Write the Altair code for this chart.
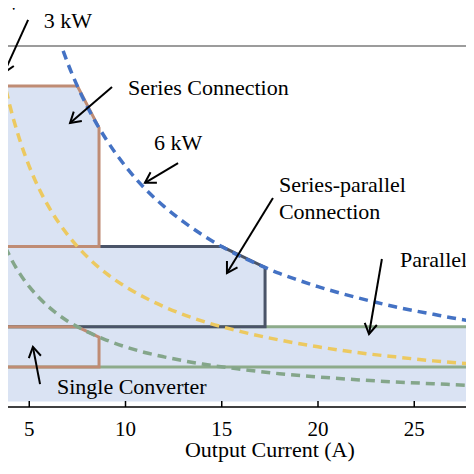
import altair as alt
import pandas as pd

# ---------------- data ----------------
# operating-region outlines: output current (A), output voltage (V)
parallel_I = [0, 30, 34.5, 34.5, 0, 0]
parallel_V = [200, 200, 174, 100, 100, 200]
seriespar_I = [0, 15, 17.25, 17.25, 0, 0]
seriespar_V = [400, 400, 348, 200, 200, 400]
single_I = [0, 7.5, 8.625, 8.625, 0, 0]
single_V = [200, 200, 174, 100, 100, 200]
series_I = [0, 7.5, 8.625, 8.625, 0, 0]
series_V = [800, 800, 696, 400, 400, 800]

# envelope of the shaded area
env_I = [0, 7.5, 8.625, 8.625, 15, 17.25, 17.25, 30, 34.5]
env_V = [800, 800, 696, 400, 400, 348, 200, 200, 174]
env_floor = 14

# constant power curves
p6_I = [6.5, 7, 7.5, 8, 9, 10, 11, 12, 13, 14, 15, 16, 17, 18, 19, 20, 21, 22, 23, 24, 25, 26, 27, 28, 29]
p6_V = [923, 857, 800, 750, 667, 600, 545, 500, 462, 429, 400, 375, 353, 333, 316, 300, 286, 273, 261, 250, 240, 231, 222, 214, 207]
p3_I = [3.2, 3.5, 4, 4.5, 5, 5.5, 6, 7, 8, 9, 10, 11, 12, 14, 16, 18, 20, 22, 24, 26, 28, 29]
p3_V = [938, 857, 750, 667, 600, 545, 500, 429, 375, 333, 300, 273, 250, 214, 188, 167, 150, 136, 125, 115, 107, 103]
p15_I = [3.2, 3.5, 4, 4.5, 5, 5.5, 6, 7, 8, 9, 10, 11, 12, 14, 16, 18, 20, 22, 24, 26, 28, 29]
p15_V = [469, 429, 375, 333, 300, 273, 250, 214, 188, 167, 150, 136, 125, 107, 94, 83, 75, 68, 62.5, 58, 53.6, 51.7]

frame_top = [900]
axis_base = [0]
tick_vals = [5, 10, 15, 20, 25]
tick_labels = ["5", "10", "15", "20", "25"]
x_title = ["Output Current (A)"]
x_title_I = [17.5]

# annotations
labels = ["1.5 kW", "3 kW", "Series Connection", "6 kW", "Series-parallel", "Connection", "Parallel", "Single Converter"]
label_I = [4.52, 7.01, 10.13, 12.73, 17.97, 17.97, 24.26, 6.44]
label_V = [1007, 963, 795, 658, 554, 486, 367, 50]
label_align = ["right", "center", "left", "center", "left", "left", "left", "left"]

arrow_tail_I = [4.94, 9.30, 12.73, 17.66, 23.32, 5.56]
arrow_tail_V = [965, 798, 608, 521, 369, 57]
arrow_head_I = [3.69, 7.12, 11.01, 15.27, 22.65, 5.19]
arrow_head_V = [833, 708, 559, 334, 182, 150]
arrow_angle = [204, 229, 239, 211, 190, 349]

# ---------------- chart ----------------
W, H = 458, 361
I_MIN = 3.896
I_MAX = I_MIN + W / 19.25
FONT = "Liberation Serif"

xs = alt.Scale(domain=[I_MIN, I_MAX], nice=False, zero=False)
ys = alt.Scale(domain=[0, 900], nice=False, zero=False)


def X(field="I"):
    return alt.X(f"{field}:Q", scale=xs, axis=None)


def Y(field="V"):
    return alt.Y(f"{field}:Q", scale=ys, axis=None, stack=None)


def poly_df(I, V):
    return pd.DataFrame({"I": I, "V": V, "idx": list(range(len(I)))})


env_df = pd.DataFrame({"I": env_I, "V": env_V, "floor": [env_floor] * len(env_I)})
fill = alt.Chart(env_df).mark_area(color="#dae3f3", clip=True, opacity=1).encode(
    x=X(), y=Y(), y2="floor:Q"
)


def outline(I, V, color):
    return alt.Chart(poly_df(I, V)).mark_line(
        color=color, strokeWidth=3, clip=True, strokeJoin="miter"
    ).encode(x=X(), y=Y(), order="idx:Q")


lines = [
    outline(parallel_I, parallel_V, "#8dab8b"),
    outline(seriespar_I, seriespar_V, "#4a5468"),
    outline(single_I, single_V, "#bf8c74"),
    outline(series_I, series_V, "#bf8c74"),
]


def curve(I, V, color):
    return alt.Chart(poly_df(I, V)).mark_line(
        color=color, strokeWidth=3.5, strokeDash=[9, 6], clip=True, interpolate="monotone"
    ).encode(x=X(), y=Y(), order="idx:Q")


curves = [
    curve(p15_I, p15_V, "#84a68a"),
    curve(p3_I, p3_V, "#ecc960"),
    curve(p6_I, p6_V, "#4472c4"),
]

top_line = alt.Chart(pd.DataFrame({"V": frame_top})).mark_rule(
    color="#9c9c9c", strokeWidth=2
).encode(y=Y())

# x axis: base line, inward ticks, labels and title
base_line = alt.Chart(pd.DataFrame({"V": axis_base})).mark_rule(
    color="black", strokeWidth=1.5
).encode(y=Y())
tick_df = pd.DataFrame({"I": tick_vals, "lab": tick_labels})
ticks = alt.Chart(tick_df).mark_rule(color="black", strokeWidth=1.5).encode(
    x=X(), y=alt.value(H), y2=alt.value(H - 6)
)
tick_text = alt.Chart(tick_df).mark_text(
    font=FONT, fontSize=21, color="black", align="center", baseline="top", clip=False
).encode(x=X(), y=alt.value(H + 12), text="lab:N")
title_text = alt.Chart(pd.DataFrame({"I": x_title_I, "t": x_title})).mark_text(
    font=FONT, fontSize=22, color="black", align="center", baseline="alphabetic", clip=False
).encode(x=X(), y=alt.value(H + 50), text="t:N")

ann_df = pd.DataFrame({"text": labels, "I": label_I, "V": label_V, "align": label_align})
texts = []
for al in ["left", "center", "right"]:
    texts.append(
        alt.Chart(ann_df[ann_df["align"] == al]).mark_text(
            font=FONT, fontSize=22, color="black", align=al, baseline="middle", clip=False
        ).encode(x=X(), y=Y(), text="text:N")
    )

arr_df = pd.DataFrame({
    "tI": arrow_tail_I, "tV": arrow_tail_V,
    "hI": arrow_head_I, "hV": arrow_head_V, "ang": arrow_angle,
})
arrow_lines = alt.Chart(arr_df).mark_rule(color="black", strokeWidth=2).encode(
    x=X("tI"), y=Y("tV"), x2="hI:Q", y2="hV:Q"
)
arrow_heads = alt.Chart(arr_df).mark_point(
    shape="M -0.6 1 L 0 0 L 0.6 1", filled=False, color="black", strokeWidth=2,
    size=420, opacity=1,
).encode(x=X("hI"), y=Y("hV"), angle=alt.Angle("ang:Q", scale=None))

chart = alt.layer(
    fill, *lines, *curves, top_line, base_line, ticks, tick_text, title_text,
    arrow_lines, arrow_heads, *texts
).properties(
    width=W, height=H,
    autosize=alt.AutoSizeParams(type="none"),
    padding={"left": 0, "top": 38, "right": 0, "bottom": 55},
).configure_view(stroke=None)

chart.save("out.html", embed_options={"renderer": "svg", "actions": False})
